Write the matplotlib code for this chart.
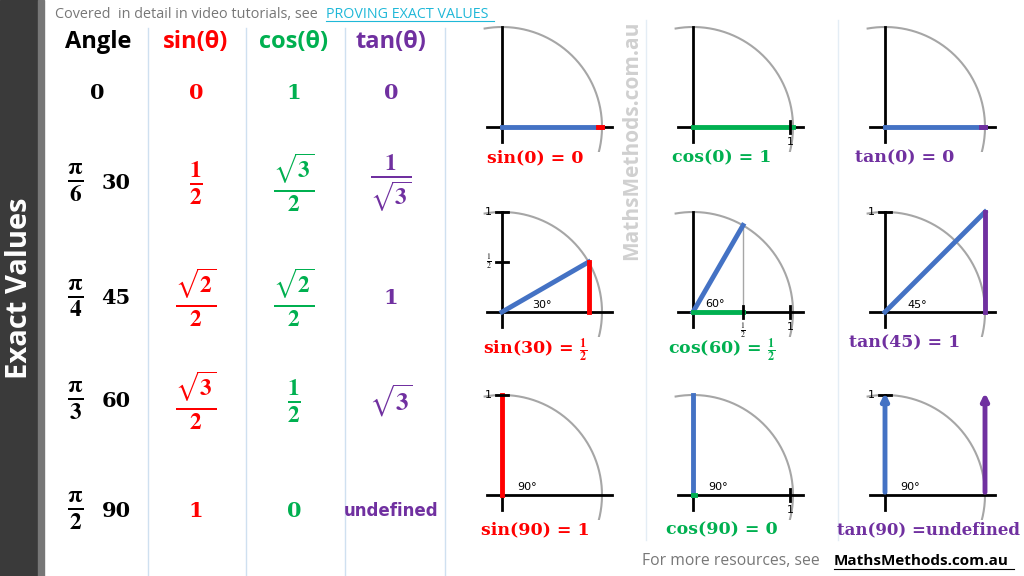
import numpy as np
import matplotlib
matplotlib.use("Agg")
import matplotlib.pyplot as plt

plt.rcParams['mathtext.fontset'] = 'stix'

# ---- data ----
headers = ["Angle", "sin(θ)", "cos(θ)", "tan(θ)"]
rad_labels = ["0", r"$\mathbf{\frac{\pi}{6}}$", r"$\mathbf{\frac{\pi}{4}}$", r"$\mathbf{\frac{\pi}{3}}$", r"$\mathbf{\frac{\pi}{2}}$"]
deg_labels = ["", "30", "45", "60", "90"]
sin_labels = ["0", r"$\mathbf{\frac{1}{2}}$", r"$\mathbf{\frac{\sqrt{2}}{2}}$", r"$\mathbf{\frac{\sqrt{3}}{2}}$", "1"]
cos_labels = ["1", r"$\mathbf{\frac{\sqrt{3}}{2}}$", r"$\mathbf{\frac{\sqrt{2}}{2}}$", r"$\mathbf{\frac{1}{2}}$", "0"]
tan_labels = ["0", r"$\mathbf{\frac{1}{\sqrt{3}}}$", "1", r"$\mathbf{\sqrt{3}}$", "undefined"]
diag_angles = [[0, 0, 0], [30, 60, 45], [90, 90, 90]]
diag_kind = [["sin", "cos", "tan"]] * 3
captions = [["sin(0) = 0", "cos(0) = 1", "tan(0) = 0"],
            [r"sin(30) = $\mathbf{\frac{1}{2}}$", r"cos(60) = $\mathbf{\frac{1}{2}}$", "tan(45) = 1"],
            ["sin(90) = 1", "cos(90) = 0", "tan(90) =undefined"]]

RED, GREEN, PURPLE, BLUE = "#ff0000", "#00b050", "#7030a0", "#4472c4"
col_colors = ["black", RED, GREEN, PURPLE]

W, H = 1024, 576
fig = plt.figure(figsize=(W/100, H/100), dpi=100)
ax = fig.add_axes([0, 0, 1, 1])
ax.set_xlim(0, W); ax.set_ylim(H, 0); ax.axis("off")

# left dark strip
ax.add_patch(plt.Rectangle((0, 0), 42, H, color="#3a3a3a"))
ax.add_patch(plt.Rectangle((38, 0), 6, H, color="#777777"))
ax.text(20, 288, "Exact Values", rotation=90, color="white", fontsize=21,
        fontweight="bold", ha="center", va="center", family="Open Sans")

ax.text(55, 14, "Covered  in detail in video tutorials, see", color="#777777",
        fontsize=10.4, va="center", family="Open Sans")
ax.text(326, 14, "PROVING EXACT VALUES", color="#1fb8d8", fontsize=10.3,
        va="center", family="Open Sans")
ax.plot([326, 494], [21, 21], color="#1fb8d8", lw=0.8)

for x in [148, 246, 345, 445]:
    ax.plot([x, x], [28, H], color="#cfe0f0", lw=1)

hx = [98, 196, 294, 391]
for x, t, c in zip(hx, headers, col_colors):
    ax.text(x, 42, t, color=c, fontsize=17, fontweight="bold", ha="center",
            va="center", family="Open Sans")

rows_y = [93, 183, 298, 401, 511]
for i, y in enumerate(rows_y):
    fs = 15
    if i == 0:
        ax.text(97, y, rad_labels[i], fontsize=fs, fontweight="bold", ha="center", va="center", family="DejaVu Serif")
    else:
        ax.text(75, y, rad_labels[i], fontsize=24, ha="center", va="center")
        ax.text(116, y, deg_labels[i], fontsize=fs, fontweight="bold", ha="center", va="center", family="DejaVu Serif")
    for x, lab, c in zip(hx[1:], [sin_labels[i], cos_labels[i], tan_labels[i]], col_colors[1:]):
        if lab.startswith("$"):
            ax.text(x, y, lab, fontsize=24 if "frac" in lab else 18, color=c, ha="center", va="center")
        elif lab == "undefined":
            ax.text(x, y, lab, fontsize=12, color=c, fontweight="bold", ha="center", va="center", family="DejaVu Sans")
        else:
            ax.text(x, y, lab, fontsize=fs, color=c, fontweight="bold", ha="center", va="center", family="DejaVu Serif")

# watermark and separators
ax.text(632, 140, "MathsMethods.com.au", rotation=90, color="#d0d0d0", fontsize=15,
        fontweight="bold", ha="center", va="center", family="Open Sans")
for x in [646, 838]:
    ax.plot([x, x], [20, 540], color="#e4edf5", lw=1)

ax.text(642, 561, "For more resources, see", color="#777777", fontsize=11.3, va="center", family="Open Sans")
ax.text(834, 561, "MathsMethods.com.au", color="black", fontsize=11, fontweight="bold",
        va="center", family="Open Sans")
ax.plot([834, 1014], [569, 569], color="black", lw=0.8)

# diagrams
ox_list = [502, 693, 885]
oy_list = [127, 312, 495]
cap_y = [158, 343, 530]
cap_x = [535, 722, 905]
kind_color = {"sin": RED, "cos": GREEN, "tan": PURPLE}
for r in range(3):
    for c in range(3):
        ox, oy = ox_list[c], oy_list[r]
        a = fig.add_axes([(ox - 20)/W, 1 - (oy + 25)/H, 135/W, 130/H])
        a.set_xlim(-0.2, 1.15); a.set_ylim(-0.25, 1.05); a.axis("off")
        th = np.radians(np.linspace(-15, 100, 200))
        a.plot(np.cos(th), np.sin(th), color="#a6a6a6", lw=1.5)
        a.plot([-0.15, 1.1], [0, 0], color="black", lw=2)
        a.plot([0, 0], [-0.15, 1.0], color="black", lw=2)
        ang = diag_angles[r][c]; k = diag_kind[r][c]; kc = kind_color[k]
        t = np.radians(ang)
        px, py = np.cos(t), np.sin(t)
        if ang == 0:
            a.plot([0, 1], [0, 0], color=GREEN if k == "cos" else BLUE, lw=3.5)
            if k != "cos":
                a.plot([0.96, 1], [0, 0], color=kc, lw=3.5)
            else:
                a.plot([0.97, 0.97], [-0.06, 0.06], color="black", lw=2)
                a.text(0.97, -0.1, "1", fontsize=8, ha="center", va="top")
        elif ang == 90:
            if k == "tan":
                a.annotate("", xy=(0, 1.05), xytext=(0, 0),
                           arrowprops=dict(arrowstyle="-|>", color=BLUE, lw=3.5), annotation_clip=False)
                a.annotate("", xy=(1, 1.05), xytext=(1, 0),
                           arrowprops=dict(arrowstyle="-|>", color=PURPLE, lw=3.5), annotation_clip=False)
            else:
                a.plot([0, 0], [0, 1], color=RED if k == "sin" else BLUE, lw=3.5)
                if k == "cos":
                    a.plot([0, 0.02], [0, 0], color=GREEN, lw=3.5)
                    a.plot([0.97, 0.97], [-0.06, 0.06], color="black", lw=2)
                    a.text(0.97, -0.1, "1", fontsize=8, ha="center", va="top")
            if k != "cos":
                a.plot([-0.06, 0.06], [1, 1], color="black", lw=2)
                a.text(-0.1, 1, "1", fontsize=8, ha="right", va="center")
            a.text(0.15, 0.03, "90°", fontsize=8, va="bottom")
        else:
            if k == "sin":
                a.plot([0, px], [0, py], color=BLUE, lw=3.5)
                a.plot([px, px], [0, py], color=RED, lw=3.5)
                for yy, lab in [(1, "1"), (0.5, r"$\frac{1}{2}$")]:
                    a.plot([-0.06, 0.06], [yy, yy], color="black", lw=2)
                    a.text(-0.1, yy, lab, fontsize=8, ha="right", va="center")
                a.text(0.3, 0.02, f"{ang}°", fontsize=8, va="bottom")
            elif k == "cos":
                a.plot([px, px], [0, py], color="#a6a6a6", lw=1)
                a.plot([0, px], [0, py], color=BLUE, lw=3.5)
                a.plot([0, px], [0, 0], color=GREEN, lw=3.5)
                for xx, lab in [(0.5, r"$\frac{1}{2}$"), (0.97, "1")]:
                    a.plot([xx, xx], [-0.06, 0.06], color="black", lw=2)
                    a.text(xx, -0.1, lab, fontsize=8, ha="center", va="top")
                a.text(0.12, 0.03, f"{ang}°", fontsize=8, va="bottom")
            else:
                a.plot([0, 1], [0, np.tan(t)], color=BLUE, lw=3.5)
                a.plot([1, 1], [0, np.tan(t)], color=PURPLE, lw=3.5)
                a.plot([-0.06, 0.06], [1, 1], color="black", lw=2)
                a.text(-0.1, 1, "1", fontsize=8, ha="right", va="center")
                a.text(0.22, 0.02, f"{ang}°", fontsize=8, va="bottom")
        lab = captions[r][c]
        if "frac" in lab:
            ax.text(cap_x[c], cap_y[r] + 7, lab, color=kc, fontsize=12.5,
                    fontweight="bold", ha="center", va="center", family="DejaVu Serif")
        elif r == 2 and c == 2:
            ax.text(1020, cap_y[r], lab, color=kc, fontsize=12, fontweight="bold",
                    ha="right", va="center", family="DejaVu Serif")
        else:
            ax.text(cap_x[c], cap_y[r], lab, color=kc, fontsize=12.5, fontweight="bold",
                    ha="center", va="center", family="DejaVu Serif")

fig.savefig("out.png", dpi=100)
